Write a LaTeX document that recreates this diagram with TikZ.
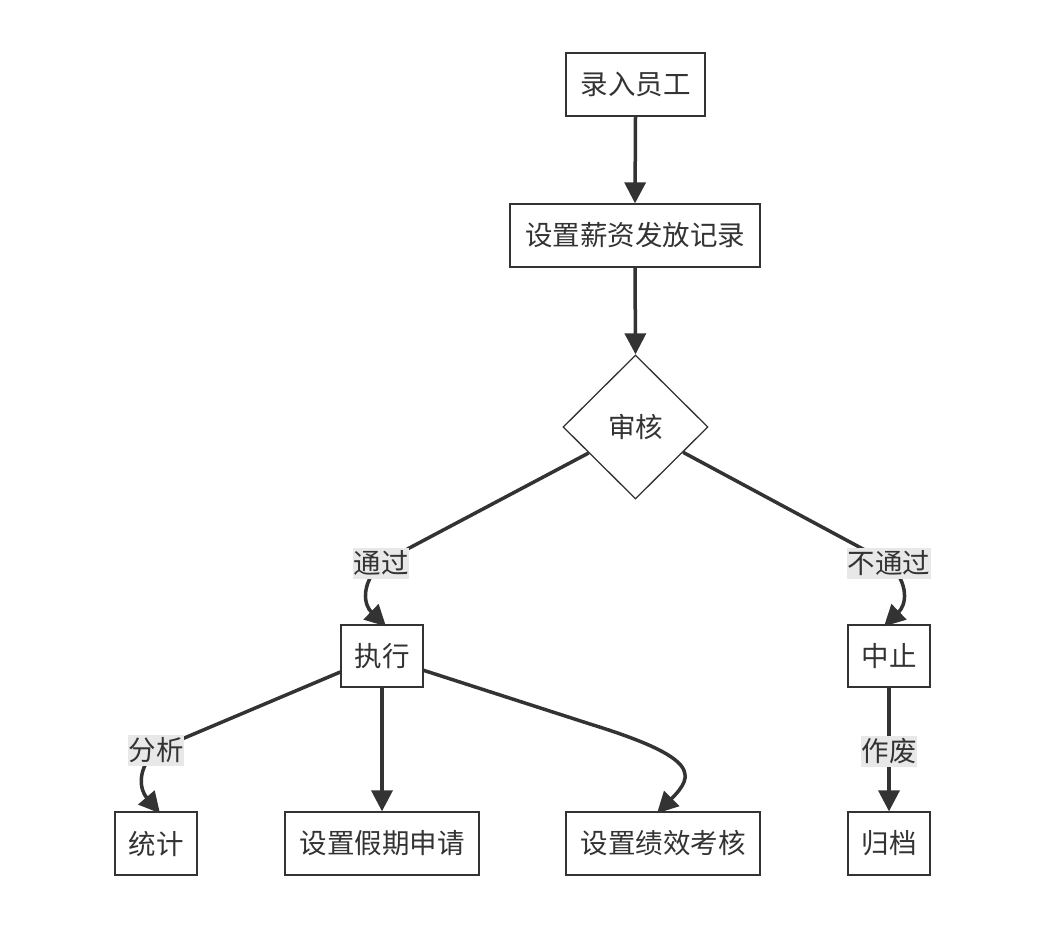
\documentclass[tikz,border=0pt]{standalone}
\usepackage{fontspec}
\setmainfont{Noto Sans CJK SC}
\usetikzlibrary{shapes.geometric,arrows.meta}
\definecolor{ink}{RGB}{51,51,51}
\definecolor{lblbg}{RGB}{232,232,232}
\begin{document}
\begin{tikzpicture}[x=1pt,y=-1pt,
  every node/.style={font=\fontsize{27.5}{32}\selectfont, text=ink},
  box/.style={draw=ink, line width=1.3pt, fill=white, rectangle, inner sep=0pt, minimum height=63},
  dia/.style={draw=ink, line width=1.3pt, fill=white, diamond, inner sep=0pt, minimum width=145, minimum height=144},
  lbl/.style={fill=lblbg, inner xsep=0.5pt, inner ysep=0pt, minimum height=31},
  arr/.style={draw=ink, line width=3.5pt, -{Triangle[length=21pt,width=21pt]}}
]
\useasboundingbox (0,0) rectangle (1046,932);

\node[box, minimum width=139] (a) at (635.5,84.5) {录入员工};
\node[box, minimum width=250] (b) at (635,235.5) {设置薪资发放记录};
\node[dia] (c) at (635.5,427) {审核};
\node[box, minimum width=82, minimum height=62] (d) at (382,656) {执行};
\node[box, minimum width=82, minimum height=62] (e) at (889,656) {中止};
\node[box, minimum width=82] (f) at (156,843.5) {统计};
\node[box, minimum width=194] (g) at (382,843.5) {设置假期申请};
\node[box, minimum width=194] (h) at (663,843.5) {设置绩效考核};
\node[box, minimum width=82] (i) at (889,843.5) {归档};

\coordinate (l1) at (381,563);
\coordinate (l2) at (889,563);
\coordinate (l3) at (156,750);
\coordinate (l4) at (889,751);
\coordinate (k1) at (590,724);

\draw[arr] (a.south) -- (b.north);
\draw[arr] (b.south) -- (c.north);
\draw[arr] (c.209) -- (l1) .. controls (360,585) and (364,605) .. ([xshift=4pt,yshift=-2pt]d.north);
\draw[arr] (c.-28) -- (l2) .. controls (910,585) and (906,605) .. ([xshift=-5pt,yshift=-2pt]e.north);
\draw[arr] (d.201) -- (l3) .. controls (136,770) and (140,790) .. ([xshift=4pt,yshift=-2pt]f.north);
\draw[arr] (d.south) -- (g.north);
\draw[arr] (d.-19) -- (k1) .. controls (700,758) and (695,775) .. ([xshift=-6pt,yshift=-2pt]h.north);
\draw[arr] (e.south) -- (i.north);

\node[lbl] at (l1) {通过};
\node[lbl] at (l2) {不通过};
\node[lbl] at (l3) {分析};
\node[lbl] at (l4) {作废};
\end{tikzpicture}
\end{document}
